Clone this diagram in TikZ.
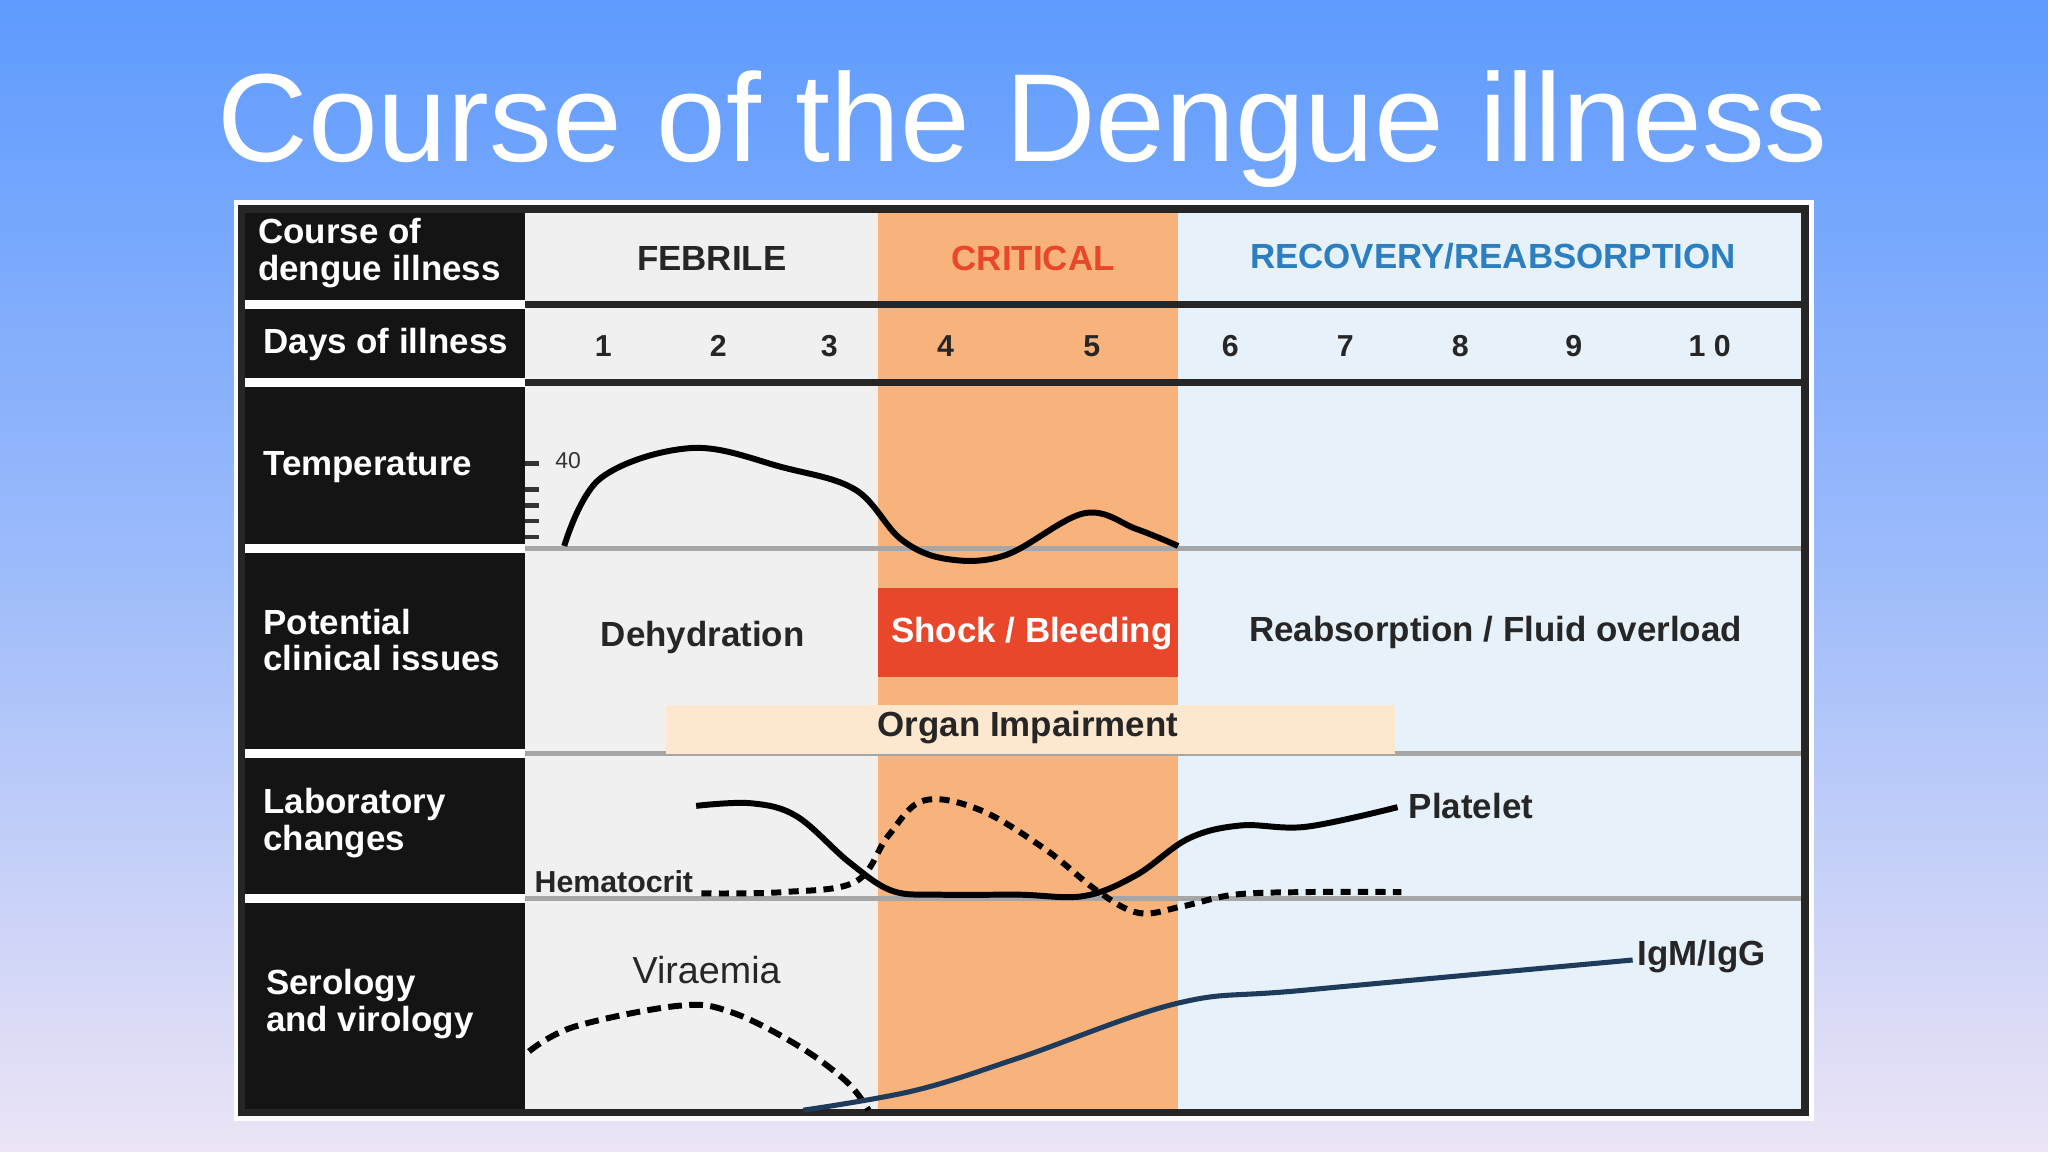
\documentclass[tikz,border=0pt]{standalone}
\usepackage{fontspec}
\setmainfont{Liberation Sans}
\definecolor{bgtop}{HTML}{5E9BFE}
\definecolor{bgbot}{HTML}{ECE4F6}
\definecolor{feb}{HTML}{F0F0F0}
\definecolor{crit}{HTML}{F8B27C}
\definecolor{reco}{HTML}{E6F1FA}
\definecolor{redbox}{HTML}{E9472B}
\definecolor{organ}{HTML}{FDE7CF}
\definecolor{recblue}{HTML}{2B7FC1}
\definecolor{navy}{HTML}{1F3B5C}
\begin{document}
\begin{tikzpicture}[x=0.01cm,y=-0.01cm,
  rowlab/.style={anchor=west,inner sep=0pt,text=white,font=\fontsize{7.6}{9}\selectfont\bfseries,align=left},
  cell/.style={font=\fontsize{7.6}{9}\selectfont\bfseries,text=black!85},
  day/.style={font=\fontsize{6.6}{8}\selectfont\bfseries,text=black!85},
  curve/.style={line width=1.3pt,smooth,tension=0.6},
  dotc/.style={curve,dash pattern=on 2.2pt off 1.6pt}]
\useasboundingbox (0,0) rectangle (1568,882);
\shade[top color=bgtop,bottom color=bgbot,middle color=bgtop!55!bgbot] (0,0) rectangle (1568,882);
\node (title) at (783,99) {\color{white}\fontsize{27.3}{30}\selectfont Course of the Dengue illness};
% frame
\fill[white] (179,153) rectangle (1389,858);
\fill[feb] (402,160) rectangle (672,852);
\fill[crit] (672,160) rectangle (902,852);
\fill[reco] (902,160) rectangle (1382,852);
\fill[black!92] (185,160) rectangle (402,852);
\foreach \y in {420,577,688} \draw[gray!70,line width=1pt] (402,\y) -- (1382,\y);
\foreach \y in {233,293} \draw[black!85,line width=1.6pt] (185,\y) -- (1382,\y);
\foreach \y in {233,293,420,577,688} \draw[white,line width=2pt] (185,\y) -- (402,\y);
\draw[black!85,line width=1.6pt] (185,160) rectangle (1382,852);
% row labels
\node[rowlab] (l1) at (197,194) {Course of\\[-1pt]dengue illness};
\node[rowlab] (l2) at (201,264) {Days of illness};
\node[rowlab] (l3) at (201,358) {Temperature};
\node[rowlab] (l4) at (201,490) {Potential\\[-1pt]clinical issues};
\node[rowlab] (l5) at (201,630) {Laboratory\\[-1pt]changes};
\node[rowlab] (l6) at (203,769) {Serology\\[-1pt]and virology};
% header
\node[cell] (feb) at (545,198) {FEBRILE};
\node[cell,text=redbox] (cri) at (791,198) {CRITICAL};
\node[cell,text=recblue] (rec) at (1143,196) {RECOVERY/REABSORPTION};
\foreach \x/\t in {462/1,550/2,635/3,724/4,836/5,942/6,1030/7,1118/8,1205/9,1309/1\ 0}
  \node[day] (d\x) at (\x,265) {\t};
% temperature
\foreach \y in {355,375,387,399,411} \draw[black!80,line width=1pt] (402,\y) -- (413,\y);
\node[font=\fontsize{5}{6}\selectfont,text=black!80] (t40) at (435,353) {40};
\draw[curve] plot coordinates {(432,418) (460,366) (530,343) (600,358) (655,375) (690,413) (725,428) (770,425) (830,393) (870,405) (902,418)};
% issues
\fill[redbox] (672,450) rectangle (902,518);
\node[cell] (deh) at (538,488) {Dehydration};
\node[cell,text=white] (shk) at (790,485) {Shock / Bleeding};
\node[cell] (rea) at (1145,484) {Reabsorption / Fluid overload};
\fill[organ] (510,540) rectangle (1068,577);
\node[cell] (org) at (787,557) {Organ Impairment};
% lab
\draw[curve] plot coordinates {(533,617) (575,615) (610,625) (650,660) (683,682) (720,685) (780,685) (830,686) (870,670) (910,642) (950,632) (1000,633) (1070,618)};
\node[cell,anchor=west,inner sep=0pt] (plt) at (1078,617) {Platelet};
\draw[dotc] plot coordinates {(537,684) (600,683) (655,675) (680,640) (707,613) (750,620) (800,650) (840,682) (872,699) (905,694) (945,685) (1000,683) (1073,683)};
\node[cell,font=\fontsize{6.6}{8}\selectfont\bfseries] (hct) at (470,675) {Hematocrit};
% serology
\draw[curve,dash pattern=on 3pt off 1.6pt] plot coordinates {(405,805) (440,786) (520,770) (560,775) (610,800) (648,828) (665,850)};
\node[font=\fontsize{8.2}{9}\selectfont,text=black!85] (vir) at (541,743) {Viraemia};
\draw[curve,navy,line width=1.1pt] plot coordinates {(615,850) (700,835) (780,810) (902,768) (1000,758) (1250,735)};
\node[cell,anchor=west,inner sep=0pt] (igm) at (1253,732) {IgM/IgG};
\end{tikzpicture}
\end{document}
